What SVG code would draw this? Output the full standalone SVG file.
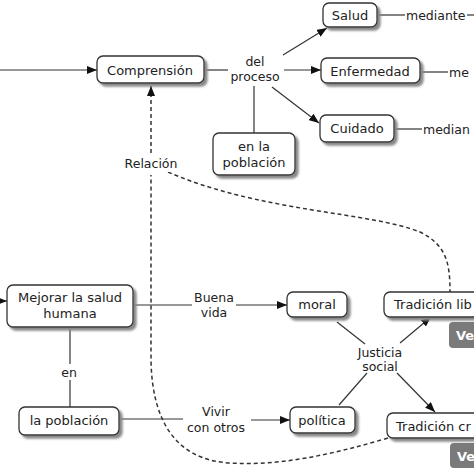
<svg xmlns="http://www.w3.org/2000/svg" width="474" height="474" viewBox="0 0 474 474">
<defs>
<marker id="ah" viewBox="0 0 10 8" refX="10" refY="4" markerWidth="10" markerHeight="8" markerUnits="userSpaceOnUse" orient="auto">
<path d="M0,0 L10,4 L0,8 Z" fill="#111"/>
</marker>
<filter id="sh" x="-10%" y="-20%" width="130%" height="160%">
<feGaussianBlur in="SourceAlpha" stdDeviation="0.8"/>
<feOffset dx="3" dy="3" result="o"/>
<feFlood flood-color="#888"/>
<feComposite in2="o" operator="in"/>
<feMerge><feMergeNode/><feMergeNode in="SourceGraphic"/></feMerge>
</filter>
</defs>
<style>
.box{fill:#fff;stroke:#333;stroke-width:1.3;filter:url(#sh)}
.gbox{fill:#7a7a7a;stroke:none}
text{font-family:"DejaVu Sans","Liberation Sans",sans-serif;font-size:13px;fill:#222;text-anchor:middle}
.lbl{font-size:12.5px}
.gt{fill:#fff;font-weight:bold;text-anchor:start}
.ln{fill:none;stroke:#333;stroke-width:1.2}
.dash{fill:none;stroke:#333;stroke-width:1.5;stroke-dasharray:4,3}
</style>
<rect width="474" height="474" fill="#fff"/>
<g id="connectors">
<line class="ln" x1="0" y1="70" x2="97" y2="70" marker-end="url(#ah)"/>
<line class="ln" x1="204" y1="70" x2="228" y2="70"/>
<line class="ln" x1="283" y1="55" x2="327" y2="28" marker-end="url(#ah)"/>
<line class="ln" x1="284" y1="70" x2="321" y2="70" marker-end="url(#ah)"/>
<line class="ln" x1="272" y1="87" x2="319" y2="123" marker-end="url(#ah)"/>
<line class="ln" x1="254" y1="86" x2="254" y2="133"/>
<line class="ln" x1="378" y1="15" x2="405" y2="15"/>
<line class="ln" x1="467" y1="15" x2="474" y2="15"/>
<line class="ln" x1="420" y1="72" x2="448" y2="72"/>
<line class="ln" x1="394" y1="129" x2="422" y2="129"/>
<line class="ln" x1="0" y1="301" x2="7" y2="301" marker-end="url(#ah)"/>
<line class="ln" x1="133" y1="305" x2="192" y2="305"/>
<line class="ln" x1="236" y1="305" x2="287" y2="305" marker-end="url(#ah)"/>
<line class="ln" x1="70" y1="327" x2="70" y2="364"/>
<line class="ln" x1="70" y1="380" x2="70" y2="407"/>
<line class="ln" x1="119" y1="419" x2="183" y2="419"/>
<line class="ln" x1="251" y1="420" x2="290" y2="420" marker-end="url(#ah)"/>
<line class="ln" x1="337" y1="322" x2="365" y2="344"/>
<line class="ln" x1="400" y1="343" x2="431" y2="317" marker-end="url(#ah)"/>
<line class="ln" x1="367" y1="373" x2="339" y2="405"/>
<line class="ln" x1="397" y1="373" x2="435" y2="412" marker-end="url(#ah)"/>
<path class="dash" d="M388,438 C330,455 280,466 230,463 C175,460 152,420 151,360 L151,175"/>
<path class="dash" d="M151,153 L151,86" marker-end="url(#ah)"/>
<path class="dash" d="M168,172 C260,212 370,212 420,232 C446,245 450,262 450,292"/>
</g>
<g id="n-comprension"><rect class="box" x="97" y="56" width="107" height="27" rx="6"/><text x="150" y="75">Comprensión</text></g>
<g id="l-delproceso"><text class="lbl" x="255" y="66">del</text><text class="lbl" x="255" y="81">proceso</text></g>
<g id="n-salud"><rect class="box" x="323" y="3" width="54" height="24" rx="6"/><text x="350" y="20">Salud</text></g>
<g id="n-enfermedad"><rect class="box" x="321" y="58" width="99" height="25" rx="6"/><text x="370" y="76">Enfermedad</text></g>
<g id="n-cuidado"><rect class="box" x="320" y="115" width="74" height="27" rx="6"/><text x="357" y="133">Cuidado</text></g>
<g id="l-mediante1"><text class="lbl" x="406" y="20" style="text-anchor:start">mediante</text></g>
<g id="l-mediante2"><text class="lbl" x="449" y="77" style="text-anchor:start">me</text></g>
<g id="l-mediante3"><text class="lbl" x="423" y="134" style="text-anchor:start">median</text></g>
<g id="n-enlapoblacion"><rect class="box" x="213" y="133" width="82" height="42" rx="6"/><text x="254" y="151">en la</text><text x="254" y="167">población</text></g>
<g id="l-relacion"><rect x="122" y="155" width="58" height="17" fill="#fff"/><text class="lbl" x="151" y="168">Relación</text></g>
<g id="n-mejorar"><rect class="box" x="7" y="285" width="126" height="42" rx="6"/><text x="70" y="302">Mejorar la salud</text><text x="70" y="318">humana</text></g>
<g id="l-buenavida"><text class="lbl" x="214" y="302">Buena</text><text class="lbl" x="214" y="317">vida</text></g>
<g id="n-moral"><rect class="box" x="287" y="292" width="60" height="25" rx="6"/><text x="317" y="309">moral</text></g>
<g id="n-tliberal"><rect class="box" x="384" y="292" width="100" height="25" rx="6"/><text x="394" y="309" style="text-anchor:start">Tradición lib</text></g>
<g id="n-ve1"><rect class="gbox" x="449" y="322" width="40" height="26" rx="4"/><text class="gt" x="456" y="340">Ve</text></g>
<g id="l-en"><text class="lbl" x="69" y="377">en</text></g>
<g id="l-justicia"><text class="lbl" x="380" y="357">Justicia</text><text class="lbl" x="380" y="371">social</text></g>
<g id="n-lapoblacion"><rect class="box" x="19" y="407" width="100" height="28" rx="6"/><text x="69" y="425">la población</text></g>
<g id="l-vivir"><text class="lbl" x="216" y="416">Vivir</text><text class="lbl" x="216" y="432">con otros</text></g>
<g id="n-politica"><rect class="box" x="290" y="407" width="65" height="26" rx="6"/><text x="322" y="425">política</text></g>
<g id="n-tcritica"><rect class="box" x="387" y="413" width="100" height="25" rx="6"/><text x="396" y="431" style="text-anchor:start">Tradición cr</text></g>
<g id="n-ve2"><rect class="gbox" x="450" y="443" width="40" height="25" rx="4"/><text class="gt" x="457" y="461">Ve</text></g>
</svg>
